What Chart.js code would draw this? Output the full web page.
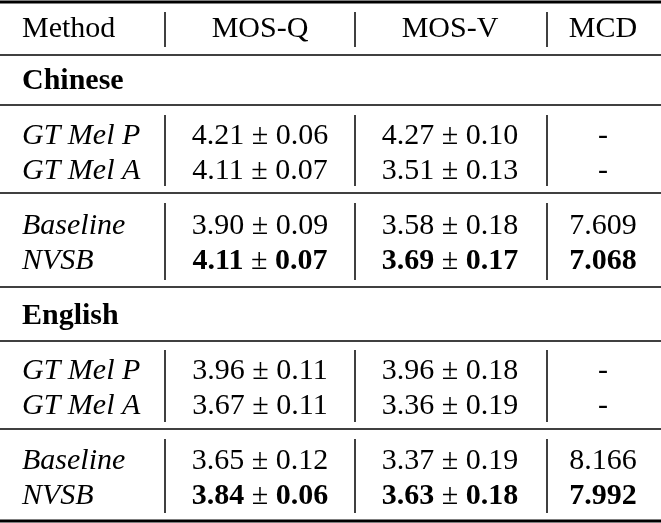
<!DOCTYPE html>
<html>
<head>
<meta charset="utf-8">
<script src="https://cdn.jsdelivr.net/npm/chart.js@4"></script>
<style>
  html, body { margin: 0; padding: 0; background: #fff; }
  #wrap { width: 661px; height: 523px; }
</style>
</head>
<body>
<div id="wrap"><canvas id="myChart"></canvas></div>
<script>
// table data
const headers = ['Method', 'MOS-Q', 'MOS-V', 'MCD'];
const sections = ['Chinese', 'English'];
const methods = ['GT Mel P', 'GT Mel A', 'Baseline', 'NVSB'];
const zhMosQ = ['4.21 ± 0.06', '4.11 ± 0.07', '3.90 ± 0.09', '4.11 ± 0.07'];
const zhMosV = ['4.27 ± 0.10', '3.51 ± 0.13', '3.58 ± 0.18', '3.69 ± 0.17'];
const zhMcd = ['-', '-', '7.609', '7.068'];
const enMosQ = ['3.96 ± 0.11', '3.67 ± 0.11', '3.65 ± 0.12', '3.84 ± 0.06'];
const enMosV = ['3.96 ± 0.18', '3.36 ± 0.19', '3.37 ± 0.19', '3.63 ± 0.18'];
const enMcd = ['-', '-', '8.166', '7.992'];
const boldRow = 3;

// layout (pixel-like units on the hidden linear scales)
const colX = [22, 260, 450, 603];
const sepX = [165, 355, 547];
const headerY = 29;
const sectionY = [81, 316];
const rowY = [[136, 171, 226, 261], [371, 406, 461, 496]];
const rules = [{y: 2, w: 3}, {y: 55, w: 1.5}, {y: 105, w: 1.5}, {y: 193, w: 1.5},
  {y: 287, w: 1.5}, {y: 341, w: 1.5}, {y: 429, w: 1.5}, {y: 521, w: 3}];
const sepSpans = [[12, 47], [115, 186], [203, 280], [350, 422], [439, 513]];

const tablePlugin = {
  id: 'table',
  afterDraw(chart) {
    const c = chart.ctx, sx = chart.scales.x, sy = chart.scales.y;
    const X = v => sx.getPixelForValue(v), Y = v => sy.getPixelForValue(v);
    c.save();
    c.fillStyle = '#000'; c.strokeStyle = '#000';
    c.textBaseline = 'middle';
    const font = (b, i) => `${i ? 'italic ' : ''}${b ? 'bold ' : ''}30px "Liberation Serif"`;
    headers.forEach((h, i) => {
      c.font = font(false, false);
      c.textAlign = i === 0 ? 'left' : 'center';
      c.fillText(h, X(colX[i]), Y(headerY));
    });
    const data = [[zhMosQ, zhMosV, zhMcd], [enMosQ, enMosV, enMcd]];
    sections.forEach((s, si) => {
      c.font = font(true, false); c.textAlign = 'left';
      c.fillText(s, X(colX[0]), Y(sectionY[si]));
      methods.forEach((m, r) => {
        const y = Y(rowY[si][r]);
        c.font = font(false, true); c.textAlign = 'left';
        c.fillText(m, X(colX[0]), y);
        data[si].forEach((col, k) => {
          const b = r === boldRow;
          c.textAlign = 'center';
          const txt = col[r];
          if (b && txt.includes('±')) {
            const [a, d] = txt.split(' ± ');
            c.font = font(true, false); const wa = c.measureText(a + ' ').width, wd = c.measureText(' ' + d).width;
            c.font = font(false, false); const wp = c.measureText('±').width;
            let x0 = X(colX[k + 1]) - (wa + wp + wd) / 2;
            c.textAlign = 'left';
            c.font = font(true, false); c.fillText(a + ' ', x0, y);
            c.font = font(false, false); c.fillText('±', x0 + wa, y);
            c.font = font(true, false); c.fillText(' ' + d, x0 + wa + wp, y);
          } else {
            c.font = font(b, false);
            c.fillText(txt, X(colX[k + 1]), y);
          }
        });
      });
    });
    rules.forEach(r => {
      c.lineWidth = r.w; c.beginPath();
      c.moveTo(X(0), Y(r.y)); c.lineTo(X(661), Y(r.y)); c.stroke();
    });
    c.lineWidth = 1.5;
    sepSpans.forEach(sp => sepX.forEach(x => {
      c.beginPath(); c.moveTo(X(x), Y(sp[0])); c.lineTo(X(x), Y(sp[1])); c.stroke();
    }));
    c.restore();
  }
};

new Chart(document.getElementById('myChart'), {
  type: 'scatter',
  data: { datasets: [{ data: [], pointRadius: 0 }] },
  options: {
    responsive: true,
    maintainAspectRatio: false,
    animation: false,
    layout: { padding: 0 },
    plugins: { legend: { display: false }, tooltip: { enabled: false } },
    scales: {
      x: { type: 'linear', min: 0, max: 661, display: false },
      y: { type: 'linear', min: 0, max: 523, reverse: true, display: false },
    },
  },
  plugins: [tablePlugin],
});
</script>
</body>
</html>
